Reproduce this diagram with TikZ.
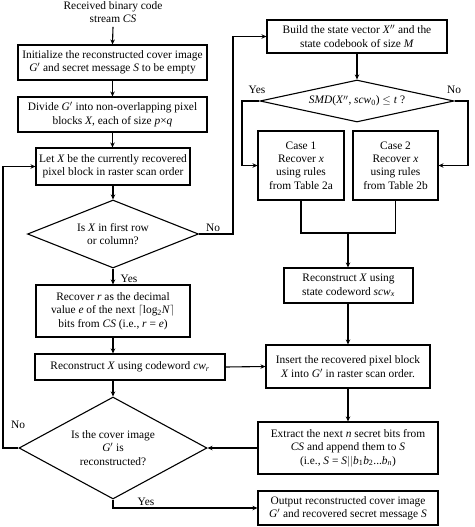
\documentclass[tikz,border=0pt]{standalone}
\usepackage{fontspec}
\setmainfont{Liberation Serif}
\usetikzlibrary{shapes.geometric,arrows.meta}
\newcommand{\vi}[1]{\textit{#1}}
\begin{document}
\begin{tikzpicture}[x=1pt,y=-1pt,
  font=\fontsize{11.4}{13.4}\selectfont,
  every node/.style={inner sep=0pt, align=center},
  box/.style={draw, line width=1.1pt, rectangle},
  dia/.style={draw, line width=1.1pt, diamond},
  lbl/.style={font=\fontsize{11.4}{13}\selectfont},
  conn/.style={line width=1.1pt},
  arr/.style={line width=1.1pt, -{Stealth[length=5pt,width=4.5pt]}}]
\useasboundingbox (0,0) rectangle (474,527);
% left column
\node (start) at (113,12) {Received binary code\\stream \vi{CS}};
\node[box, minimum width=189pt, minimum height=35pt] (b1) at (112.5,62.5)
  {Initialize the reconstructed cover image\\\vi{G}$'$ and secret message \vi{S} to be empty};
\node[box, minimum width=189pt, minimum height=35pt] (b2) at (112.5,114.5)
  {Divide \vi{G}$'$ into non-overlapping pixel\\blocks \vi{X}, each of size \vi{p}×\vi{q}};
\node[box, minimum width=154pt, minimum height=37pt] (b3) at (113,166.5)
  {Let \vi{X} be the currently recovered\\pixel block in raster scan order};
\node[dia, minimum width=171pt, minimum height=68pt, aspect=2.5] (d1) at (113,234)
  {Is \vi{X} in first row\\or column?};
\node[box, minimum width=154pt, minimum height=52pt] (b4) at (113,311)
  {Recover \vi{r} as the decimal\\value \vi{e} of the next $\lceil$log\textsubscript{2}\vi{N}$\rceil$\\bits from \vi{CS} (i.e., \vi{r} = \vi{e})};
\node[box, minimum width=190pt, minimum height=26pt] (b5) at (130,367)
  {Reconstruct \vi{X} using codeword \vi{cw\textsubscript{r}}};
\node[dia, minimum width=188pt, minimum height=102pt, aspect=1.84] (d2) at (113,448)
  {Is the cover image\\\vi{G}$'$ is\\reconstructed?};
% right column
\node[box, minimum width=180pt, minimum height=33pt] (r1) at (357,36.5)
  {Build the state vector \vi{X}$''$ and the\\state codebook of size \vi{M}};
\node[dia, minimum width=194pt, minimum height=42pt, aspect=4.6] (dr) at (357,101)
  {\vi{SMD}(\vi{X}$''$, \vi{scw}\textsubscript{0}) $\leq$ \vi{t} ?};
\node[box, minimum width=86pt, minimum height=69pt] (c1) at (301,165.5)
  {Case 1\\Recover \vi{x}\\using rules\\from Table 2a};
\node[box, minimum width=85pt, minimum height=69pt] (c2) at (395.5,165.5)
  {Case 2\\Recover \vi{x}\\using rules\\from Table 2b};
\coordinate (m) at (348,233);
\node[box, minimum width=129pt, minimum height=35pt] (r3) at (348.5,285.5)
  {Reconstruct \vi{X} using\\state codeword \vi{scw\textsubscript{x}}};
\node[box, minimum width=164pt, minimum height=43pt] (r4) at (348,366.5)
  {Insert the recovered pixel block\\\vi{X} into \vi{G}$'$ in raster scan order.};
\node[box, minimum width=180pt, minimum height=52pt] (r5) at (348,448)
  {Extract the next \vi{n} secret bits from\\\vi{CS} and append them to \vi{S}\\(i.e., \vi{S} = \vi{S}$||$\vi{b}\textsubscript{1}\vi{b}\textsubscript{2}...\vi{b\textsubscript{n}})};
\node[box, minimum width=180pt, minimum height=34pt] (out) at (348,508)
  {Output reconstructed cover image\\\vi{G}$'$ and recovered secret message \vi{S}};
% labels
\node[lbl] (ly1) at (129,279) {Yes};
\node[lbl] (ln1) at (213,228) {No};
\node[lbl] (ln2) at (18,425) {No};
\node[lbl] (ly2) at (146,502) {Yes};
\node[lbl] (lyr) at (257,90) {Yes};
\node[lbl] (lnr) at (454,90) {No};
% connectors
\draw[arr] (start.south) ++(0,4) -- (b1.north);
\draw[arr] (b1) -- (b2);
\draw[arr] (b2.south) -- (b2.south|-b3.north);
\draw[arr] (b3) -- (d1);
\draw[arr] (d1) -- (b4);
\draw[arr] (b4.south) -- (b4.south|-b5.north);
\draw[arr] (b4.south|-b5.south) -- (d2.north);
\draw[arr] (d1.east) -- (233,234) |- (r1.west);
\draw[arr] (d2.west) -- (3,448) |- (b3.west);
\draw[arr] (d2.south) |- (out.west);
\draw[arr] (r1) -- (dr);
\draw[arr] (dr.west) -- (242,101) |- (c1.west);
\draw[arr] (dr.east) -- (468,101) |- (c2.east);
\draw[conn] (c1.south) |- (m) -| (c2.south);
\draw[arr] (m) -- (r3.north-|m);
\draw[arr] (r3.south-|m) -- (r4.north-|m);
\draw[arr] (r4.south-|m) -- (r5.north-|m);
\draw[arr] (b5.east) -- (r4.west);
\draw[arr] (r5.west) -- (d2.east);
\end{tikzpicture}
\end{document}
